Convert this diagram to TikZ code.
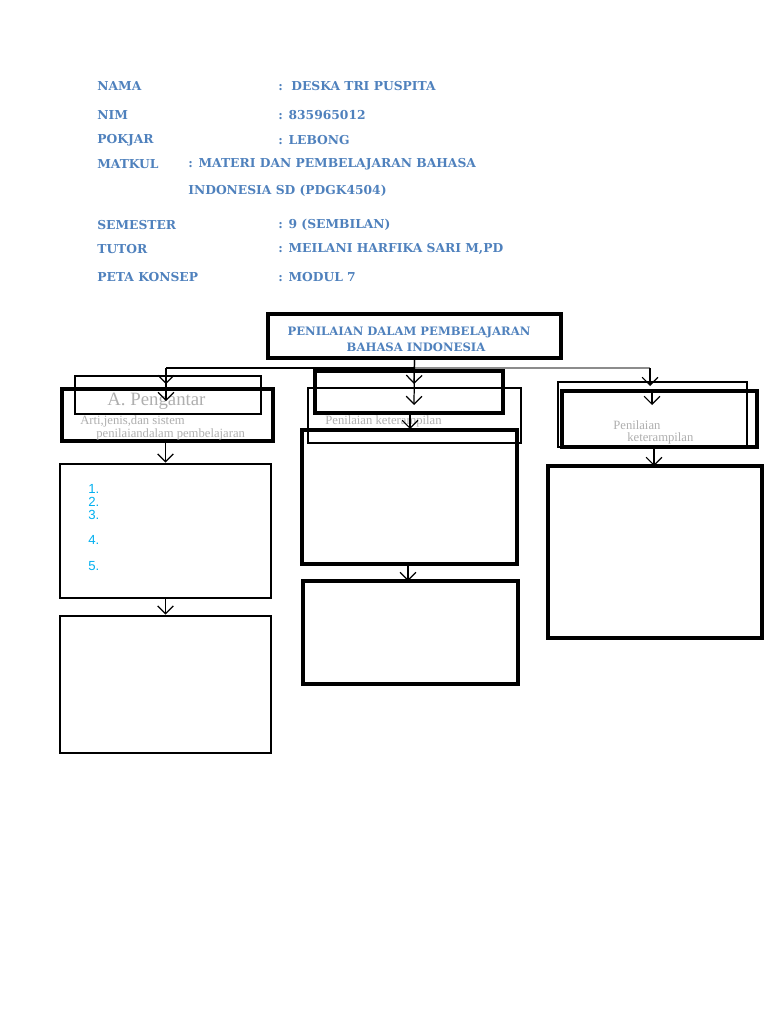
\documentclass[tikz,border=0pt]{standalone}
\usepackage{fontspec}
\setmainfont{Liberation Serif}
\setsansfont{Liberation Sans}
\newfontfamily\headfont{DejaVu Serif}
\usetikzlibrary{arrows.meta}
\definecolor{headblue}{RGB}{79,129,189}
\definecolor{numblue}{RGB}{0,176,240}
\definecolor{labelgray}{RGB}{175,175,175}

\tikzset{
  head/.style={anchor=west, inner sep=0pt, text=headblue, font=\headfont\bfseries\fontsize{7}{8}\selectfont},
  boldbox/.style={draw, line width=1.75pt, inner sep=0pt},
  thinbox/.style={draw, line width=1.2pt, inner sep=0pt},
  link/.style={->, line width=0.7pt},
  greytext/.style={anchor=west, inner sep=0pt, text=labelgray, font=\fontsize{7.2}{8}\selectfont},
  num/.style={anchor=west, inner sep=0pt, text=numblue, font=\sffamily\fontsize{7.5}{8}\selectfont}
}

\begin{document}
\begin{tikzpicture}[x=0.02cm, y=-0.02cm, >={Straight Barb[length=4.5pt,width=9pt]}]
\useasboundingbox[fill=white] (0,0) rectangle (768,1024);

% identitas
\node[head] (nama) at (97,86) {NAMA};
\node[head] (namaisi) at (278,86) {:\ \ DESKA TRI PUSPITA};
\node[head] (nim) at (97,115) {NIM};
\node[head] (nimisi) at (278,115) {: 835965012};
\node[head] (pokjar) at (97,140) {POKJAR};
\node[head] (pokjarisi) at (278,140) {: LEBONG};
\node[head] (matkul) at (97,164) {MATKUL};
\node[head] (matkulisi) at (188,164) {: MATERI DAN PEMBELAJARAN BAHASA};
\node[head] (matkulisi2) at (188,191) {INDONESIA SD (PDGK4504)};
\node[head] (semester) at (97,225) {SEMESTER};
\node[head] (semesterisi) at (278,225) {: 9 (SEMBILAN)};
\node[head] (tutor) at (97,249) {TUTOR};
\node[head] (tutorisi) at (278,249) {: MEILANI HARFIKA SARI M,PD};
\node[head] (peta) at (97,277) {PETA KONSEP};
\node[head] (petaisi) at (278,277) {: MODUL 7};

% judul
\node[boldbox, minimum width=5.86cm, minimum height=0.88cm] (judul) at (414.5,336) {};
\node[align=center, text=headblue, font=\headfont\bfseries\fontsize{6.6}{9.2}\selectfont] (judulteks) at (409,339.5)
  {PENILAIAN DALAM PEMBELAJARAN\\ \hspace{8pt}BAHASA INDONESIA};

% kolom kiri
\node[thinbox, minimum width=3.72cm, minimum height=0.76cm] (a1) at (168,395) {};
\node[boldbox, minimum width=4.22cm, minimum height=1.04cm] (a2) at (167.5,415) {};
\node[boldbox, line width=1.5pt, minimum width=4.22cm, minimum height=2.68cm] (a3) at (165.5,531) {};
\node[boldbox, line width=1.5pt, minimum width=4.22cm, minimum height=2.74cm] (a4) at (165.5,684.5) {};
\node[greytext, font=\fontsize{10.7}{12}\selectfont] (pengantar) at (107,401) {A. Pengantar};
\node[greytext] (arti) at (80,421) {Arti,jenis,dan sistem};
\node[greytext] (arti2) at (96,434) {penilaiandalam pembelajaran};
\foreach \n/\y in {1/489, 2/502, 3/515, 4/540, 5/566}
  \node[num] (no\n) at (88,\y) {\n.};

% kolom tengah
\node[boldbox, minimum width=3.76cm, minimum height=0.84cm] (b1) at (409,392) {};
\node[thinbox, minimum width=4.26cm, minimum height=1.10cm] (b2) at (414.5,415.5) {};
\node[boldbox, minimum width=4.30cm, minimum height=2.68cm] (b3) at (409.5,497) {};
\node[boldbox, minimum width=4.30cm, minimum height=2.06cm] (b4) at (410.5,632.5) {};
\node[greytext] (nilai) at (325,421) {Penilaian keterampilan};

% kolom kanan
\node[thinbox, minimum width=3.78cm, minimum height=1.30cm] (c1) at (652.5,414.5) {};
\node[boldbox, minimum width=3.90cm, minimum height=1.12cm] (c2) at (659.5,419) {};
\node[boldbox, minimum width=4.28cm, minimum height=3.44cm] (c3) at (655,552) {};
\node[greytext] (nilaic) at (613,425) {Penilaian};
\node[greytext] (nilaic2) at (627,438) {keterampilan};

% penghubung
\coordinate (kiri) at (166,368);
\coordinate (kanan) at (650,368);
\coordinate (tengah) at (414,368);
\draw[line width=0.7pt] (kiri) -- (tengah);
\draw[line width=0.7pt, black!45] (tengah) -- (kanan);
\draw[link] (judul.south) -- (414,384);
\draw[link] (judul.south) -- (414,405);
\draw[link] (410,413) -- (410,429);
\draw[link] (kiri) -- (166,384);
\draw[link] (kiri) -- (166,401);
\draw[link] (kanan) -- (650,386);
\draw[link] (652,390) -- (652,405);
\draw[link] (a3.north |- a2.south) -- (a3.north);
\draw[link] (a4.north |- a3.south) -- (a4.north);
\draw[link] (408,564) -- (408,581);
\draw[link] (654,447) -- (654,466);
\end{tikzpicture}
\end{document}
